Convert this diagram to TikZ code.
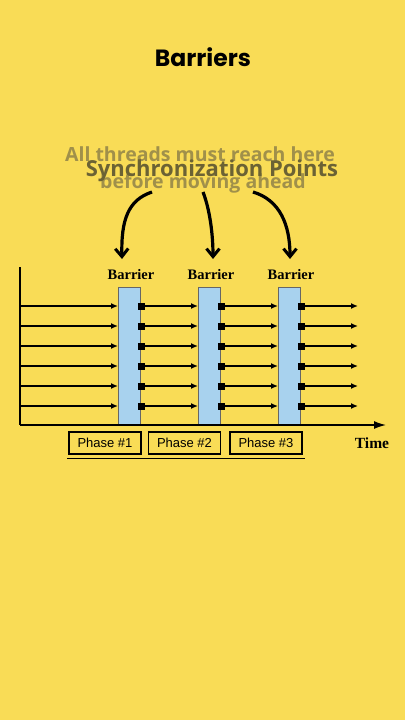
\documentclass[tikz,border=0pt]{standalone}
\usepackage{fontspec}
\setmainfont{Liberation Serif}
\setsansfont{Liberation Sans}
\newfontfamily\titlefont{Poppins Bold}
\newfontfamily\osfont{Open Sans}
\usetikzlibrary{arrows.meta}
\definecolor{bg}{HTML}{F9DC56}
\definecolor{olivelight}{HTML}{A0904A}
\definecolor{olivedark}{HTML}{6B6234}
\definecolor{barblue}{HTML}{A8D2EE}
\begin{document}
\begin{tikzpicture}[x=1pt,y=-1pt,
  thread/.style={line width=1.3pt,-{Latex[length=7pt,width=6pt]}},
  curvearrow/.style={line width=3.2pt,-{Straight Barb[length=8pt,width=13pt,line width=3pt]}},
  barrierbar/.style={draw=black!60,line width=0.6pt,fill=barblue},
  sq/.style={fill=black,minimum size=7pt,inner sep=0pt},
  phasebox/.style={draw=black,line width=1.3pt,minimum width=72pt,minimum height=22pt,inner sep=0pt,font=\sffamily\fontsize{13}{13}\selectfont},
  barlabel/.style={font=\bfseries\fontsize{14.5}{14.5}\selectfont}]
\fill[bg] (0,0) rectangle (405,720);
\useasboundingbox (0,0) rectangle (405,720);
\node (title) at (203,57) {\titlefont\fontsize{23.5}{23.5}\selectfont Barriers};
\node[text=olivelight] (t1) at (200,154) {\osfont\bfseries\fontsize{19.5}{19.5}\selectfont All threads must reach here};
\node[text=olivelight] (t2) at (203,183) {\osfont\bfseries\fontsize{19.5}{19.5}\selectfont before moving ahead};
\node[text=olivedark] (t3) at (212,171) {\osfont\bfseries\fontsize{22}{22}\selectfont Synchronization Points};
% barriers
\foreach \i/\x in {1/118,2/198,3/278}{
  \draw[barrierbar] (\x,287) rectangle ++(22,138);
  \node[barlabel] (b\i) at (\x+13,275) {Barrier};
}
% axes
\coordinate (origin) at (20,425);
\coordinate (ytop) at (20,267);
\coordinate (xend) at (386,425);
\draw[line width=1.4pt] (ytop) -- (origin);
\draw[line width=1.4pt,-{Latex[length=12pt,width=8pt]}] (origin) -- (xend);
\node[barlabel,font=\bfseries\fontsize{15.5}{15.5}\selectfont] (time) at (372,443) {Time};
% threads
\foreach \y in {306,326,346,366,386,406}{
  \coordinate (s0) at (20,\y);
  \coordinate (e1) at (118,\y);
  \node[sq] (q1) at (141,\y) {};
  \coordinate (e2) at (198,\y);
  \node[sq] (q2) at (221,\y) {};
  \coordinate (e3) at (278,\y);
  \node[sq] (q3) at (301,\y) {};
  \coordinate (e4) at (358,\y);
  \draw[thread] (s0) -- (e1);
  \draw[thread] (q1) -- (e2);
  \draw[thread] (q2) -- (e3);
  \draw[thread] (q3) -- (e4);
}
% phase boxes
\node[phasebox] (p1) at (105,443) {Phase \#1};
\node[phasebox] (p2) at (184.5,443) {Phase \#2};
\node[phasebox] (p3) at (266,443) {Phase \#3};
\coordinate (ul1) at (67,458);
\coordinate (ul2) at (305,458);
\draw[line width=0.8pt] (ul1) -- (ul2);
% curved arrows
\coordinate (a1) at (152,192);
\coordinate (a2) at (203,192);
\coordinate (a3) at (253,192);
\coordinate (h1) at (122,259);
\coordinate (h2) at (213,259);
\coordinate (h3) at (290,259);
\draw[curvearrow] (a1) .. controls (128,200) and (121,220) .. (h1);
\draw[curvearrow] (a2) .. controls (210,210) and (213,235) .. (h2);
\draw[curvearrow] (a3) .. controls (280,200) and (290,225) .. (h3);
\end{tikzpicture}
\end{document}
